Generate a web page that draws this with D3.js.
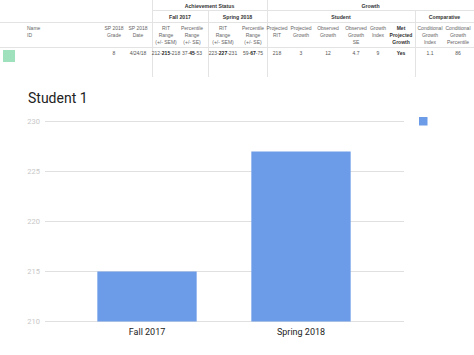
<!DOCTYPE html>
<html><head><meta charset="utf-8">
<script src="https://cdn.jsdelivr.net/npm/d3@7"></script>
<style>
body{margin:0;background:#fff;}
svg{display:block;}
</style></head>
<body>
<svg id="c" width="474" height="355"></svg>
<script>
const categories = ["Fall 2017", "Spring 2018"];
const ritValues = [215, 227];
const yTicks = [210, 215, 220, 225, 230];
const chartTitle = "Student 1";

const groupHeaders = [
  {label:"Achievement Status", x0:152, x1:267},
  {label:"Growth", x0:267, x1:474}
];
const subHeaders = [
  {label:"Fall 2017", x0:152, x1:208},
  {label:"Spring 2018", x0:208, x1:267},
  {label:"Student", x0:267, x1:415},
  {label:"Comparative", x0:415, x1:474}
];
const columnHeaders = [
  {lines:["Name","ID"], x:27, anchor:"start"},
  {lines:["SP 2018","Grade"], x:114},
  {lines:["SP 2018","Date"], x:138},
  {lines:["RIT","Range","(+/- SEM)"], x:166},
  {lines:["Percentile","Range","(+/- SE)"], x:192},
  {lines:["RIT","Range","(+/- SEM)"], x:223},
  {lines:["Percentile","Range","(+/- SE)"], x:253},
  {lines:["Projected","RIT"], x:277},
  {lines:["Projected","Growth"], x:301},
  {lines:["Observed","Growth"], x:328},
  {lines:["Observed","Growth","SE"], x:356},
  {lines:["Growth","Index"], x:378},
  {lines:["Met","Projected","Growth"], x:401, bold:true},
  {lines:["Conditional","Growth","Index"], x:430},
  {lines:["Conditional","Growth","Percentile"], x:458}
];
const rowValues = [
  {parts:["8"], x:114},
  {parts:["4/24/18"], x:138},
  {parts:["212-","215","-218"], x:166},
  {parts:["37-","45","-53"], x:192},
  {parts:["223-","227","-231"], x:223},
  {parts:["59-","67","-75"], x:253},
  {parts:["218"], x:277},
  {parts:["3"], x:301},
  {parts:["12"], x:328},
  {parts:["4.7"], x:356},
  {parts:["9"], x:378},
  {parts:["Yes"], x:401, bold:true},
  {parts:["1.1"], x:430},
  {parts:["86"], x:458}
];

const svg = d3.select("#c");
const tf = "Liberation Sans, Arial, sans-serif";
const lineCol = "#e3e3e3";

// table lines
const tl = svg.append("g").attr("stroke", lineCol).attr("stroke-width", 1);
tl.append("line").attr("x1",152).attr("x2",474).attr("y1",10.5).attr("y2",10.5);
tl.append("line").attr("x1",0).attr("x2",474).attr("y1",22.5).attr("y2",22.5);
tl.append("line").attr("x1",0).attr("x2",474).attr("y1",47.5).attr("y2",47.5);
[[152.5,0],[267.5,0],[208.5,11],[415.5,11]].forEach(([x,y0])=>{
  tl.append("line").attr("x1",x).attr("x2",x).attr("y1",y0).attr("y2",77);
});

const tt = svg.append("g").attr("font-family", tf);
groupHeaders.forEach(g=>{
  tt.append("text").attr("x",(g.x0+g.x1)/2).attr("y",7.5).attr("text-anchor","middle")
    .attr("font-size",5.2).attr("font-weight","bold").attr("fill","#333").text(g.label);
});
subHeaders.forEach(g=>{
  tt.append("text").attr("x",(g.x0+g.x1)/2).attr("y",18.5).attr("text-anchor","middle")
    .attr("font-size",5.2).attr("font-weight","bold").attr("fill","#333").text(g.label);
});
columnHeaders.forEach(c=>{
  c.lines.forEach((l,i)=>{
    tt.append("text").attr("x",c.x).attr("y",30+i*6.8).attr("text-anchor",c.anchor||"middle")
      .attr("font-size",5).attr("font-weight",c.bold?"bold":"normal")
      .attr("fill",c.bold?"#333":"#666").text(l);
  });
});
rowValues.forEach(v=>{
  const t = tt.append("text").attr("x",v.x).attr("y",55).attr("text-anchor","middle")
    .attr("font-size",5).attr("fill","#555").attr("font-weight",v.bold?"bold":"normal");
  v.parts.forEach((p,i)=>{
    t.append("tspan").attr("font-weight",(v.parts.length===3&&i===1)||v.bold?"bold":"normal")
      .attr("fill",(v.parts.length===3&&i===1)||v.bold?"#222":"#555").text(p);
  });
});
svg.append("rect").attr("x",3).attr("y",50).attr("width",12).attr("height",12).attr("fill","#9fe0bd");

// chart
const cf = "Roboto, Arial, sans-serif";
svg.append("text").attr("x",28).attr("y",103).attr("font-family",cf).attr("font-size",14)
  .attr("fill","#222").text(chartTitle);

const y = d3.scaleLinear().domain([210,230]).range([321.5,121.5]);
const x = d3.scaleBand().domain(categories).range([70,378]).paddingInner(0.355).paddingOuter(0.1775);

const grid = svg.append("g");
yTicks.forEach(t=>{
  grid.append("line").attr("x1",45).attr("x2",404).attr("y1",y(t)).attr("y2",y(t))
    .attr("stroke","#e0e0e0").attr("stroke-width",1);
  grid.append("text").attr("x",40).attr("y",y(t)+2.5).attr("text-anchor","end")
    .attr("font-family",cf).attr("font-size",7.5).attr("fill","#c8c8c8").text(t);
});

svg.append("g").selectAll("rect").data(categories).join("rect")
  .attr("x",d=>x(d)).attr("width",x.bandwidth())
  .attr("y",(d,i)=>y(ritValues[i])).attr("height",(d,i)=>y(210)-y(ritValues[i]))
  .attr("fill","#6c9be8");

svg.append("g").selectAll("text").data(categories).join("text")
  .attr("x",d=>x(d)+x.bandwidth()/2).attr("y",335).attr("text-anchor","middle")
  .attr("font-family",cf).attr("font-size",9).attr("fill","#222").text(d=>d);

svg.append("rect").attr("x",419).attr("y",117).attr("width",8.5).attr("height",8.5)
  .attr("fill","#6c9be8");
</script>
</body></html>
